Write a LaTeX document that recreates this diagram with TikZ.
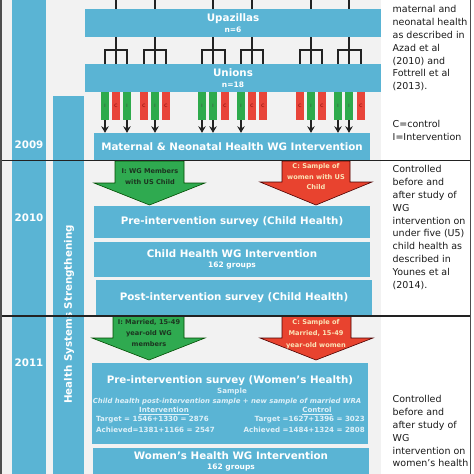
\documentclass[tikz,border=0pt]{standalone}
\usepackage{fontspec}
\setmainfont{DejaVu Sans}
\usetikzlibrary{arrows.meta}
\definecolor{boxblue}{HTML}{5AB4D4}
\definecolor{bggrey}{HTML}{F2F2F2}
\definecolor{igreen}{HTML}{2EAA4C}
\definecolor{cred}{HTML}{E8453A}
\definecolor{agreen}{HTML}{2FAA50}
\definecolor{ared}{HTML}{E8432F}
\definecolor{lineblack}{HTML}{222222}
\definecolor{paleblue}{HTML}{DDF0F8}
\definecolor{paleyellow}{HTML}{FBE4B8}
\definecolor{darktext}{HTML}{1C3520}
\definecolor{bodytext}{HTML}{1A1A1A}
\begin{document}
\begin{tikzpicture}[x=1pt,y=-1pt,
  bluebox/.style={fill=boxblue, inner sep=0pt, text=white, align=center, font=\bfseries\fontsize{10.3}{12.4}\selectfont},
  subtxt/.style={font=\bfseries\fontsize{7.5}{9}\selectfont},
  yearlbl/.style={text=white, font=\bfseries\fontsize{10.3}{12}\selectfont, inner sep=0pt},
  barbox/.style={minimum width=8.5pt, minimum height=28pt, inner sep=0pt, font=\fontsize{4.5}{5}\selectfont},
  ibar/.style={barbox, fill=igreen, text=black!75},
  cbar/.style={barbox, fill=cred, text=red!45!black},
  tree/.style={draw=lineblack, line width=1.4pt},
  drop/.style={draw=lineblack, line width=1.3pt, -{Stealth[length=6.5pt,width=7.5pt]}},
  garrow/.style={fill=agreen, draw=green!30!black, line width=0.6pt},
  rarrow/.style={fill=ared, draw=red!30!black, line width=0.6pt},
  gtext/.style={text=darktext, align=center, inner sep=0pt, font=\bfseries\fontsize{6.6}{11}\selectfont},
  rtext/.style={text=paleyellow, align=center, inner sep=0pt, font=\bfseries\fontsize{6.6}{10.5}\selectfont},
  sidetext/.style={anchor=north west, inner sep=0pt, align=left, text=bodytext, font=\fontsize{9.5}{12.8}\selectfont},
  paletxt/.style={text=paleblue, inner sep=0pt, font=\bfseries\fontsize{7.1}{9}\selectfont},
  sepline/.style={draw=lineblack, line width=1.1pt}
]
\useasboundingbox (0,0) rectangle (474,474);
\clip (0,0) rectangle (474,474);
% backgrounds
\fill[bggrey] (0,0) rectangle (474,474);
\fill[white] (381,0) rectangle (474,474);
% left columns
\fill[boxblue] (12,-2) rectangle (46,480);
\fill[boxblue] (53,96) rectangle (84,480);
\node[yearlbl] (y2009) at (29,145) {2009};
\node[yearlbl] (y2010) at (29,218) {2010};
\node[yearlbl] (y2011) at (29,363) {2011};
\node[yearlbl, rotate=90] (hss) at (69,314.5) {Health Systems Strengthening};

% main boxes
\node[bluebox, minimum width=296pt, minimum height=28pt] (upa) at (233,23) {Upazillas\\[-2pt]{\fontsize{7.5}{9}\selectfont n=6}};
\node[bluebox, minimum width=296pt, minimum height=28pt] (un) at (233,78) {Unions\\[-1.5pt]{\fontsize{7.5}{9}\selectfont n=18}};
\node[bluebox, minimum width=276pt, minimum height=27pt] (mat) at (232,146.5) {Maternal \& Neonatal Health WG Intervention};
\node[bluebox, minimum width=276pt, minimum height=32pt] (pre1) at (232,222) {Pre-intervention survey (Child Health)};
\node[bluebox, minimum width=276pt, minimum height=35pt] (chi) at (232,259.5) {Child Health WG Intervention\\[-2.5pt]{\fontsize{7.5}{9}\selectfont 162 groups}};
\node[bluebox, minimum width=276pt, minimum height=36pt] (post1) at (234,298) {Post-intervention survey (Child Health)};
\node[bluebox, minimum width=276pt, minimum height=81pt] (pre2) at (230,403.5) {};
\node[bluebox, minimum width=276pt, minimum height=26pt] (wom) at (231,461) {Women’s Health WG Intervention\\[-2.5pt]{\fontsize{7.5}{9}\selectfont 162 groups}};

% pre2 contents
\node[text=white, inner sep=0pt, font=\bfseries\fontsize{10.3}{12}\selectfont] (pre2t) at (230,381) {Pre-intervention survey (Women’s Health)};
\node[paletxt] (samp) at (232,392) {Sample};
\node[paletxt, font=\bfseries\itshape\fontsize{6.9}{9}\selectfont] (samp2) at (227,402) {Child health post-intervention sample + new sample of married WRA};
\node[paletxt] (intl) at (164,411) {\underline{Intervention}};
\node[paletxt] (conl) at (317,411) {\underline{Control}};
\node[paletxt, anchor=west] (it) at (96,420) {Target = 1546+1330 = 2876};
\node[paletxt, anchor=west] (ia) at (96,429.5) {Achieved=1381+1166 = 2547};
\node[paletxt, anchor=east] (ct) at (365,420) {Target =1627+1396 = 3023};
\node[paletxt, anchor=east] (ca) at (365,429.5) {Achieved =1484+1324 = 2808};

% top lines from above
\foreach \i/\x in {1/116,2/155,3/213,4/252,5/311,6/349}{
  \coordinate (t\i) at (\x,-2);
  \draw[tree] (t\i) -- (upa.north -| t\i);
}

% bars
\node[ibar] (b1) at (105,106) {I};
\node[cbar] (b2) at (116,106) {C};
\node[ibar] (b3) at (127,106) {I};
\node[cbar] (b4) at (144,106) {C};
\node[ibar] (b5) at (155,106) {I};
\node[cbar] (b6) at (166,106) {C};
\node[ibar] (b7) at (202,106) {I};
\node[ibar] (b8) at (213,106) {I};
\node[cbar] (b9) at (225,106) {C};
\node[ibar] (b10) at (241,106) {I};
\node[cbar] (b11) at (252,106) {C};
\node[cbar] (b12) at (263,106) {C};
\node[cbar] (b13) at (300,106) {C};
\node[ibar] (b14) at (311,106) {I};
\node[cbar] (b15) at (322,106) {C};
\node[ibar] (b16) at (338,106) {I};
\node[ibar] (b17) at (349,106) {I};
\node[cbar] (b18) at (361,106) {C};

% trees
\foreach \l/\m/\r in {b1/b2/b3,b4/b5/b6,b7/b8/b9,b10/b11/b12,b13/b14/b15,b16/b17/b18}{
  \draw[tree] (upa.south -| \m) -- (un.north -| \m);
  \draw[tree] (un.north -| \l) -- ++(0,-14) -| (un.north -| \r);
}

% drops from intervention bars
\foreach \b in {b1,b3,b5,b7,b8,b10,b14,b16,b17}{
  \draw[drop] (\b.south) -- (mat.north -| \b.south);
}

% big arrows 2010
\draw[garrow] (115,161) -- (115,183) -- (94,183) -- (149.5,205) -- (205,183) -- (184,183) -- (184,161) -- cycle;
\node[gtext] (g1) at (150,176.5) {I: WG Members\\with US Child};
\draw[rarrow] (282,161) -- (282,182) -- (260,182) -- (316,205) -- (372,182) -- (350,182) -- (350,161) -- cycle;
\node[rtext] (r1) at (316,177) {C: Sample of\\women with US\\Child};

% big arrows 2011
\draw[garrow] (113,316) -- (113,338) -- (92,338) -- (149,360) -- (205,338) -- (184,338) -- (184,316) -- cycle;
\node[gtext] (g2) at (149,333.5) {I: Married, 15-49\\year-old WG\\members};
\draw[rarrow] (282,316) -- (282,338) -- (260,338) -- (316,360) -- (373,338) -- (351,338) -- (351,316) -- cycle;
\node[rtext, font=\bfseries\fontsize{6.6}{11.5}\selectfont] (r2) at (316,334) {C: Sample of\\Married, 15-49\\year-old women};

% separators and borders
\draw[sepline] (0,160.5) -- (470.5,160.5);
\draw[sepline] (0,316) -- (470.5,316);
\draw[draw=lineblack!80, line width=1.5pt] (1,0) -- (1,474);
\draw[draw=lineblack!80, line width=1.2pt] (470.5,0) -- (470.5,474);

% side texts
\node[sidetext] (s1) at (392.5,5.4) {maternal and\\neonatal health\\as described in\\Azad et al\\(2010) and\\Fottrell et al\\(2013).};
\node[sidetext] (s1b) at (392.5,120.4) {C=control\\I=Intervention};
\node[sidetext] (s2) at (392.5,165.4) {Controlled\\before and\\after study of\\WG\\intervention on\\under five (U5)\\child health as\\described in\\Younes et al\\(2014).};
\node[sidetext] (s3) at (392.5,395.4) {Controlled\\before and\\after study of\\WG\\intervention on\\women’s health};
\end{tikzpicture}
\end{document}
